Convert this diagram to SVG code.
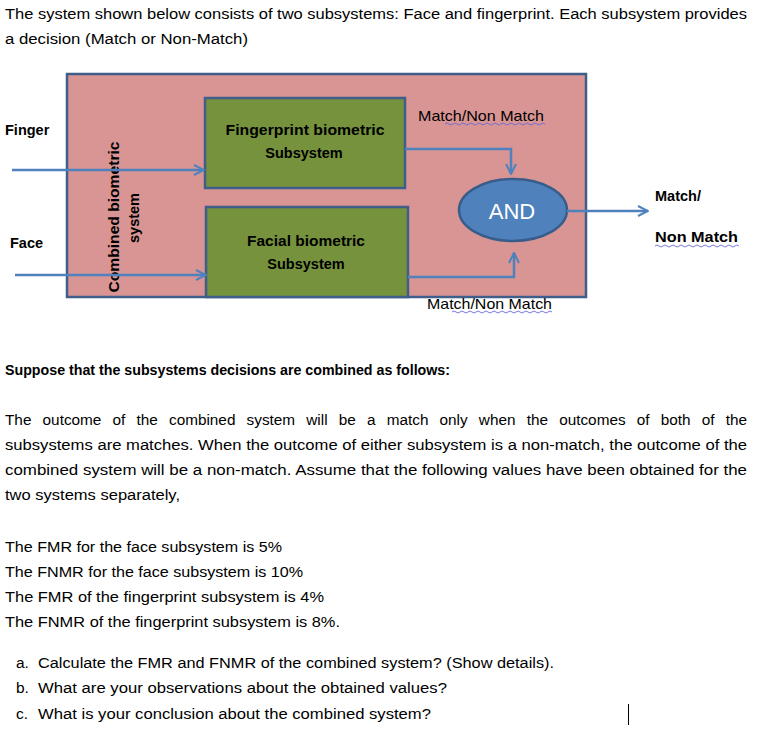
<svg xmlns="http://www.w3.org/2000/svg" width="770" height="730" viewBox="0 0 770 730">
<style>
.t{font-family:"Liberation Sans",Arial,sans-serif;font-size:14.5px;fill:#000}
.p{font-family:"Liberation Sans",Arial,sans-serif;font-size:15.5px;fill:#000}
.b{font-weight:bold}
.c{text-anchor:middle}
.con{fill:none;stroke:#4F81BD;stroke-width:2.5}
.sq{fill:none;stroke:#6a6ad8;stroke-width:0.9}
</style>
<defs>
<marker id="ar" viewBox="0 0 12 12" refX="11" refY="6" markerWidth="12" markerHeight="12" markerUnits="userSpaceOnUse" orient="auto">
<path d="M1,1 L11,6 L1,11" fill="none" stroke="#4F81BD" stroke-width="2"/>
</marker>
</defs>
<rect width="770" height="730" fill="#fff"/>
<text class="p" x="5" y="19" textLength="742" lengthAdjust="spacingAndGlyphs">The system shown below consists of two subsystems: Face and fingerprint. Each subsystem provides</text>
<text class="p" x="5" y="44" textLength="243" lengthAdjust="spacingAndGlyphs">a decision (Match or Non-Match)</text>

<g id="system">
<rect x="67" y="74" width="519" height="223" fill="#D99594" stroke="#3F5E8A" stroke-width="2.5"/>
<text class="t b c" transform="translate(119,217) rotate(-90)" textLength="151" lengthAdjust="spacingAndGlyphs">Combined biometric</text>
<text class="t b c" transform="translate(139,218) rotate(-90)">system</text>
</g>
<g id="fingerprint">
<rect x="205" y="98" width="200" height="90" fill="#76923C" stroke="#3F5E8A" stroke-width="2.5"/>
<text class="t b c" x="305" y="135" textLength="159" lengthAdjust="spacingAndGlyphs">Fingerprint biometric</text>
<text class="t b c" x="304" y="158">Subsystem</text>
</g>
<g id="facial">
<rect x="206" y="207" width="202" height="90" fill="#76923C" stroke="#3F5E8A" stroke-width="2.5"/>
<text class="t b c" x="306" y="246" textLength="118" lengthAdjust="spacingAndGlyphs">Facial biometric</text>
<text class="t b c" x="306" y="269">Subsystem</text>
</g>
<g id="and">
<ellipse cx="513" cy="210" rx="54" ry="31" fill="#4F81BD" stroke="#385D8A" stroke-width="2.5"/>
<text x="512" y="219" text-anchor="middle" font-family="'Liberation Sans',Arial,sans-serif" font-size="22" fill="#fff">AND</text>
</g>
<g id="labels">
<text class="t b" x="5" y="135">Finger</text>
<text class="t b" x="10" y="248">Face</text>
<text class="t" x="418" y="121" textLength="126" lengthAdjust="spacingAndGlyphs">Match/Non Match</text>
<text class="t" x="427" y="309" textLength="125" lengthAdjust="spacingAndGlyphs">Match/Non Match</text>
<text class="t b" x="655" y="201">Match/</text>
<text class="t b" x="655" y="242" textLength="83" lengthAdjust="spacingAndGlyphs">Non Match</text>
<path class="sq" d="M445,124 q2,-2 4,0 t4,0 t4,0 t4,0 t4,0 t4,0 t4,0 t4,0 t4,0 t4,0 t4,0 t4,0 t4,0 t4,0 t4,0 t4,0 t4,0 t4,0 t4,0 t4,0 t4,0 t4,0 t4,0 t4,0 t4,0"/>
<path class="sq" d="M452,312 q2,-2 4,0 t4,0 t4,0 t4,0 t4,0 t4,0 t4,0 t4,0 t4,0 t4,0 t4,0 t4,0 t4,0 t4,0 t4,0 t4,0 t4,0 t4,0 t4,0 t4,0 t4,0 t4,0 t4,0 t4,0 t4,0"/>
<path class="sq" d="M655,246 q2,-2 4,0 t4,0 t4,0 t4,0 t4,0 t4,0 t4,0 t4,0 t4,0 t4,0 t4,0 t4,0 t4,0 t4,0 t4,0 t4,0 t4,0 t4,0 t4,0 t4,0 t4,0"/>
</g>
<g id="connectors">
<path class="con" d="M12,170 H204" marker-end="url(#ar)"/>
<path class="con" d="M15,275 H206" marker-end="url(#ar)"/>
<path class="con" d="M405,149 H511 V174" marker-end="url(#ar)"/>
<path class="con" d="M408,277 H514 V253" marker-end="url(#ar)"/>
<path class="con" d="M567,211 H648" marker-end="url(#ar)"/>
</g>

<text class="p b" x="5" y="375" textLength="445" lengthAdjust="spacingAndGlyphs">Suppose that the subsystems decisions are combined as follows:</text>
<text class="p" x="5" y="425" textLength="742" lengthAdjust="spacingAndGlyphs" word-spacing="7">The outcome of the combined system will be a match only when the outcomes of both of the</text>
<text class="p" x="5" y="450" textLength="742" lengthAdjust="spacingAndGlyphs">subsystems are matches. When the outcome of either subsystem is a non-match, the outcome of the</text>
<text class="p" x="5" y="475" textLength="742" lengthAdjust="spacingAndGlyphs">combined system will be a non-match. Assume that the following values have been obtained for the</text>
<text class="p" x="5" y="500" textLength="175" lengthAdjust="spacingAndGlyphs">two systems separately,</text>

<text class="p" x="5" y="552" textLength="277" lengthAdjust="spacingAndGlyphs">The FMR for the face subsystem is 5%</text>
<text class="p" x="5" y="577" textLength="298" lengthAdjust="spacingAndGlyphs">The FNMR for the face subsystem is 10%</text>
<text class="p" x="5" y="602" textLength="319" lengthAdjust="spacingAndGlyphs">The FMR of the fingerprint subsystem is 4%</text>
<text class="p" x="5" y="627" textLength="335" lengthAdjust="spacingAndGlyphs">The FNMR of the fingerprint subsystem is 8%.</text>

<text class="p" x="16" y="668">a.</text>
<text class="p" x="38" y="668" textLength="516" lengthAdjust="spacingAndGlyphs">Calculate the FMR and FNMR of the combined system? (Show details).</text>
<text class="p" x="16" y="693">b.</text>
<text class="p" x="38" y="693" textLength="409" lengthAdjust="spacingAndGlyphs">What are your observations about the obtained values?</text>
<text class="p" x="16" y="719">c.</text>
<text class="p" x="38" y="719" textLength="393" lengthAdjust="spacingAndGlyphs">What is your conclusion about the combined system?</text>
<line x1="628.5" y1="704" x2="628.5" y2="725" stroke="#000" stroke-width="1"/>
</svg>
